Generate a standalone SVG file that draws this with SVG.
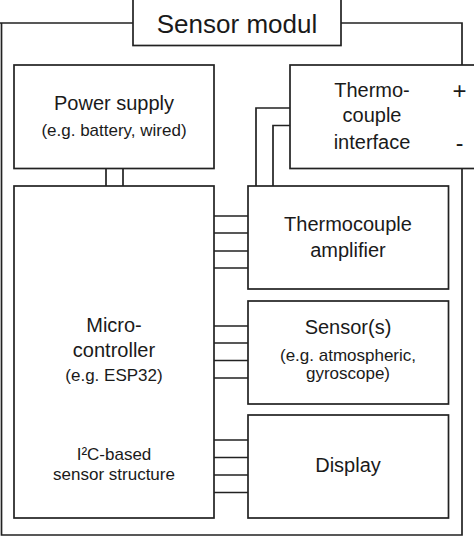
<svg xmlns="http://www.w3.org/2000/svg" width="474" height="537" viewBox="0 0 474 537">
<style>
.box{fill:#fff;stroke:#222;stroke-width:1.7}
.ln{fill:none;stroke:#222;stroke-width:1.7}
text{font-family:"Liberation Sans",Arial,sans-serif;fill:#1a1a1a;text-anchor:middle}
.t{font-size:20px}
.s{font-size:17px}
</style>
<rect width="474" height="537" fill="#fff"/>
<g id="frame">
<path class="ln" d="M0,23 H133 M341,23 H462 V535 H1.5 V23"/>
</g>
<g id="title">
<rect class="box" x="133" y="-3" width="208" height="48.5"/>
<text x="237" y="32.5" style="font-size:26px">Sensor modul</text>
</g>
<g id="connectors">
<path class="ln" d="M106,168.5 V186 M123,168.5 V186"/>
<path class="ln" d="M290,108 H256 V186 M290,125.5 H273 V186"/>
<path class="ln" d="M214,216 H248 M214,233 H248 M214,251 H248 M214,268 H248"/>
<path class="ln" d="M214,326 H248 M214,343 H248 M214,360.5 H248 M214,378 H248"/>
<path class="ln" d="M214,440 H248 M214,457.5 H248 M214,475 H248 M214,492.5 H248"/>
</g>
<g id="power">
<rect class="box" x="14" y="65" width="200" height="103.5"/>
<text class="t" x="114" y="110">Power supply</text>
<text class="s" x="114" y="136">(e.g. battery, wired)</text>
</g>
<g id="interface">
<rect class="box" x="290" y="65" width="190" height="103.5"/>
<text class="t" x="372" y="97">Thermo-</text>
<text class="t" x="372" y="122">couple</text>
<text class="t" x="372" y="148.5">interface</text>
<text x="459.5" y="99" style="font-size:24px">+</text>
<text x="459.5" y="151" style="font-size:23px">-</text>
</g>
<g id="mcu">
<rect class="box" x="14" y="186" width="200" height="332"/>
<text class="t" x="114" y="332">Micro-</text>
<text class="t" x="114" y="357">controller</text>
<text class="s" x="114" y="381">(e.g. ESP32)</text>
<text class="s" x="114" y="460">I²C-based</text>
<text class="s" x="114" y="480">sensor structure</text>
</g>
<g id="amplifier">
<rect class="box" x="248" y="186" width="200.5" height="103"/>
<text class="t" x="348" y="231">Thermocouple</text>
<text class="t" x="348" y="256.5">amplifier</text>
</g>
<g id="sensors">
<rect class="box" x="248" y="301" width="200.5" height="103"/>
<text class="t" x="348" y="334">Sensor(s)</text>
<text class="s" x="348" y="361">(e.g. atmospheric,</text>
<text class="s" x="348" y="378.5">gyroscope)</text>
</g>
<g id="display">
<rect class="box" x="248" y="415" width="200.5" height="103"/>
<text class="t" x="348" y="472">Display</text>
</g>
</svg>
